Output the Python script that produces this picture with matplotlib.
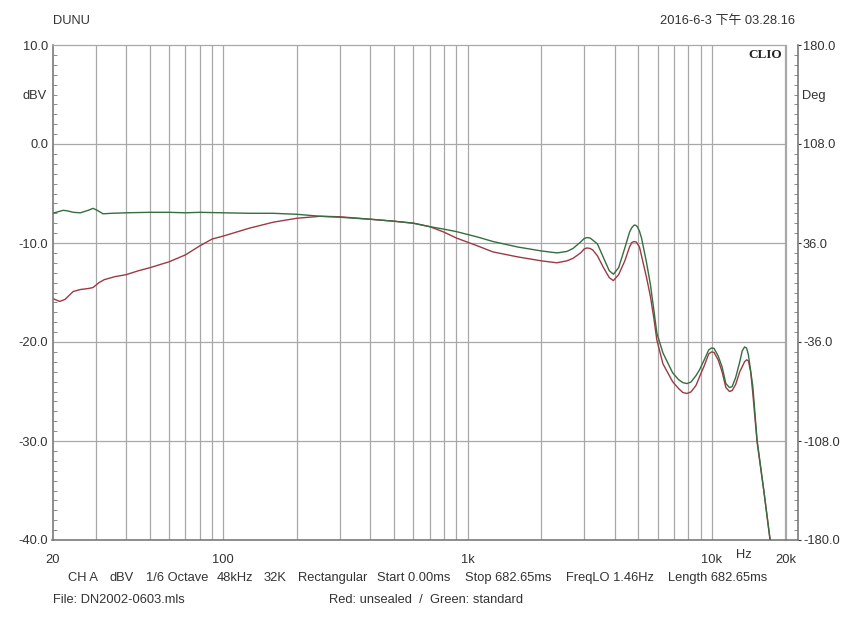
import numpy as np
import matplotlib
matplotlib.use('Agg')
import matplotlib.pyplot as plt
from matplotlib.ticker import FixedLocator, NullFormatter

plt.rcParams['font.family'] = ['Liberation Sans', 'Noto Sans CJK SC', 'DejaVu Sans']

# standard (green) response
freq_std = [20, 21.4, 22.1, 23, 24.3, 26, 28, 29.3, 30.5, 32.2, 35, 40, 50, 60, 70, 80,
            100, 130, 160, 200, 250, 300, 400, 500, 600, 700, 800, 900, 1100, 1270,
            1600, 2000, 2320, 2550, 2700, 2900, 3000, 3080, 3170, 3250, 3400, 3600,
            3800, 3950, 4150, 4400, 4600, 4700, 4800, 4870, 4950, 5050, 5150, 5400,
            5600, 5800, 5950, 6300, 6900, 7300, 7600, 7900, 8200, 8600, 8900, 9300,
            9700, 9960, 10200, 10600, 11000, 11400, 11800, 12100, 12500, 13000, 13300,
            13600, 13850, 14100, 14700, 15300, 16300, 17300, 19000]
db_std = [-7.0, -6.8, -6.7, -6.75, -6.9, -6.95, -6.7, -6.5, -6.7, -7.05, -7.0, -6.95,
          -6.9, -6.9, -6.95, -6.9, -6.95, -7.0, -7.0, -7.1, -7.3, -7.4, -7.6, -7.8,
          -8.0, -8.35, -8.6, -8.85, -9.4, -9.85, -10.4, -10.8, -11.0, -10.85, -10.55,
          -9.9, -9.55, -9.45, -9.5, -9.7, -10.1, -11.5, -12.8, -13.15, -12.5, -10.5,
          -8.9, -8.45, -8.2, -8.2, -8.35, -8.8, -9.5, -12.0, -14.2, -17.0, -19.1,
          -21.1, -23.1, -23.8, -24.1, -24.2, -24.05, -23.4, -22.8, -21.8, -20.8,
          -20.6, -20.65, -21.4, -22.5, -24.2, -24.6, -24.5, -23.6, -22.0, -20.9,
          -20.5, -20.6, -21.3, -24.5, -29.9, -35.0, -40.0, -48.0]

# unsealed (red) response
freq_uns = [20, 21.4, 22.5, 24.3, 26, 28, 29.3, 31, 32.6, 36, 40, 45, 50, 60, 70, 80,
            90, 100, 128, 160, 200, 250, 300, 400, 500, 600, 700, 800, 900, 1100, 1270,
            1600, 2000, 2320, 2550, 2700, 2900, 3000, 3080, 3170, 3250, 3400, 3600,
            3800, 3950, 4150, 4400, 4600, 4700, 4800, 4900, 5050, 5150, 5400, 5600,
            5800, 5950, 6300, 6900, 7300, 7600, 7900, 8200, 8600, 8900, 9300, 9700,
            9960, 10200, 10600, 11000, 11400, 11800, 12100, 12500, 13000, 13600, 13850,
            14100, 14400, 14700, 15300, 16300, 17300, 19000]
db_uns = [-15.6, -15.9, -15.7, -14.9, -14.7, -14.6, -14.5, -14.0, -13.7, -13.4, -13.2,
          -12.8, -12.5, -11.9, -11.2, -10.3, -9.6, -9.3, -8.5, -7.9, -7.5, -7.3, -7.35,
          -7.6, -7.8, -8.0, -8.35, -8.9, -9.5, -10.3, -10.9, -11.4, -11.8, -12.0, -11.8,
          -11.55, -11.0, -10.6, -10.5, -10.55, -10.7, -11.3, -12.5, -13.5, -13.8,
          -13.2, -11.8, -10.4, -9.95, -9.85, -9.9, -10.4, -11.3, -13.5, -15.4, -17.8,
          -19.8, -22.2, -24.0, -24.7, -25.1, -25.2, -25.05, -24.4, -23.5, -22.4,
          -21.2, -21.0, -21.05, -21.8, -23.0, -24.6, -25.0, -24.9, -24.3, -23.0,
          -22.0, -21.8, -21.9, -23.0, -25.2, -30.1, -35.0, -40.0, -48.0]

left_ticks = [10, 0, -10, -20, -30, -40]
right_ticks = [180, 108, 36, -36, -108, -180]
x_ticks = [20, 100, 1000, 10000, 20000]
x_labels = ['20', '100', '1k', '10k', '20k']
info_items = ['CH A', 'dBV', '1/6 Octave', '48kHz', '32K', 'Rectangular',
              'Start 0.00ms', 'Stop 682.65ms', 'FreqLO 1.46Hz', 'Length 682.65ms']
info_x = [68, 109, 146, 217, 264, 298, 377, 465, 566, 668]

W, H = 850, 638
fig = plt.figure(figsize=(W / 100, H / 100), dpi=100)
ax = fig.add_axes([52.5 / W, 1 - 540 / H, 733 / W, 495 / H])

grid_c = '#a8a8a8'
ax.set_xscale('log')
ax.set_xlim(20, 20000)
ax.set_ylim(-40, 10)

# vertical grid at every 1-2-3... of each decade
vlines = [m * 10 ** d for d in range(1, 5) for m in range(1, 10) if 20 <= m * 10 ** d <= 20000]
for v in vlines:
    ax.axvline(v, color=grid_c, lw=0.9, zorder=1)
for t in left_ticks[1:-1]:
    ax.axhline(t, color=grid_c, lw=0.9, zorder=1)

ax.plot(freq_std, db_std, color='#356e40', lw=1.0, zorder=3)
ax.plot(freq_uns, db_uns, color='#9c3a46', lw=1.0, zorder=2)

for s in ['top', 'right']:
    ax.spines[s].set_color(grid_c)
    ax.spines[s].set_linewidth(0.9)
for s in ['left', 'bottom']:
    ax.spines[s].set_color('#7a7a7a')
    ax.spines[s].set_linewidth(1.2)

ax.set_xticks(x_ticks)
ax.set_xticklabels(x_labels)
ax.xaxis.set_minor_locator(FixedLocator([]))
ax.xaxis.set_minor_formatter(NullFormatter())
ax.tick_params(axis='x', length=0, pad=10, labelsize=9.3, colors='#333333')

ax.set_yticks(left_ticks)
ax.set_yticklabels(['%.1f' % t for t in left_ticks])
ax.yaxis.set_minor_locator(FixedLocator(np.arange(-40, 10, 1)))
ax.tick_params(axis='y', which='major', length=0, pad=3,
               labelsize=9.3, colors='#333333')
ax.tick_params(axis='y', which='minor', length=3, direction='in', color='#7a7a7a')

# phase axis on the right, a bit outside the frame (12 px)
ax2 = ax.twinx()
ax2.set_ylim(-180, 180)
ax2.spines['right'].set_position(('outward', 12 * 0.72))
ax2.spines['right'].set_color('#7a7a7a')
ax2.spines['right'].set_linewidth(1.2)
for s in ['top', 'left', 'bottom']:
    ax2.spines[s].set_visible(False)
ax2.set_yticks(right_ticks)
ax2.set_yticklabels(['%.1f' % t for t in right_ticks])
ax2.yaxis.set_minor_locator(FixedLocator(np.arange(-180, 180, 7.2)))
ax2.tick_params(axis='y', which='major', length=2, direction='out', pad=2,
                labelsize=9.3, colors='#333333')
ax2.tick_params(axis='y', which='minor', length=3, direction='in', color='#7a7a7a')
ax2.plot([1, 1 + 12 / 733], [0, 0], transform=ax2.transAxes, color='#7a7a7a',
         lw=1.2, clip_on=False)


def px(x, y):
    return x / W, 1 - y / H


txt = dict(fontsize=9.3, color='#333333', va='center')
fig.text(*px(53, 21), 'DUNU', ha='left', **txt)
fig.text(*px(795, 21), '2016-6-3 下午 03.28.16', ha='right', **txt)
fig.text(*px(782, 55), 'CLIO', ha='right', va='center', fontsize=9.5,
         family='Liberation Serif', weight='bold', color='#222222')
fig.text(*px(35, 96), 'dBV', ha='center', **txt)
fig.text(*px(814, 96), 'Deg', ha='center', **txt)
fig.text(*px(744, 555), 'Hz', ha='center', **txt)
for item, xi in zip(info_items, info_x):
    fig.text(*px(xi, 578), item, ha='left', **txt)
fig.text(*px(53, 600), 'File: DN2002-0603.mls', ha='left', **txt)
fig.text(*px(329, 600), 'Red: unsealed  /  Green: standard', ha='left', **txt)

fig.savefig('out.png', dpi=100)
